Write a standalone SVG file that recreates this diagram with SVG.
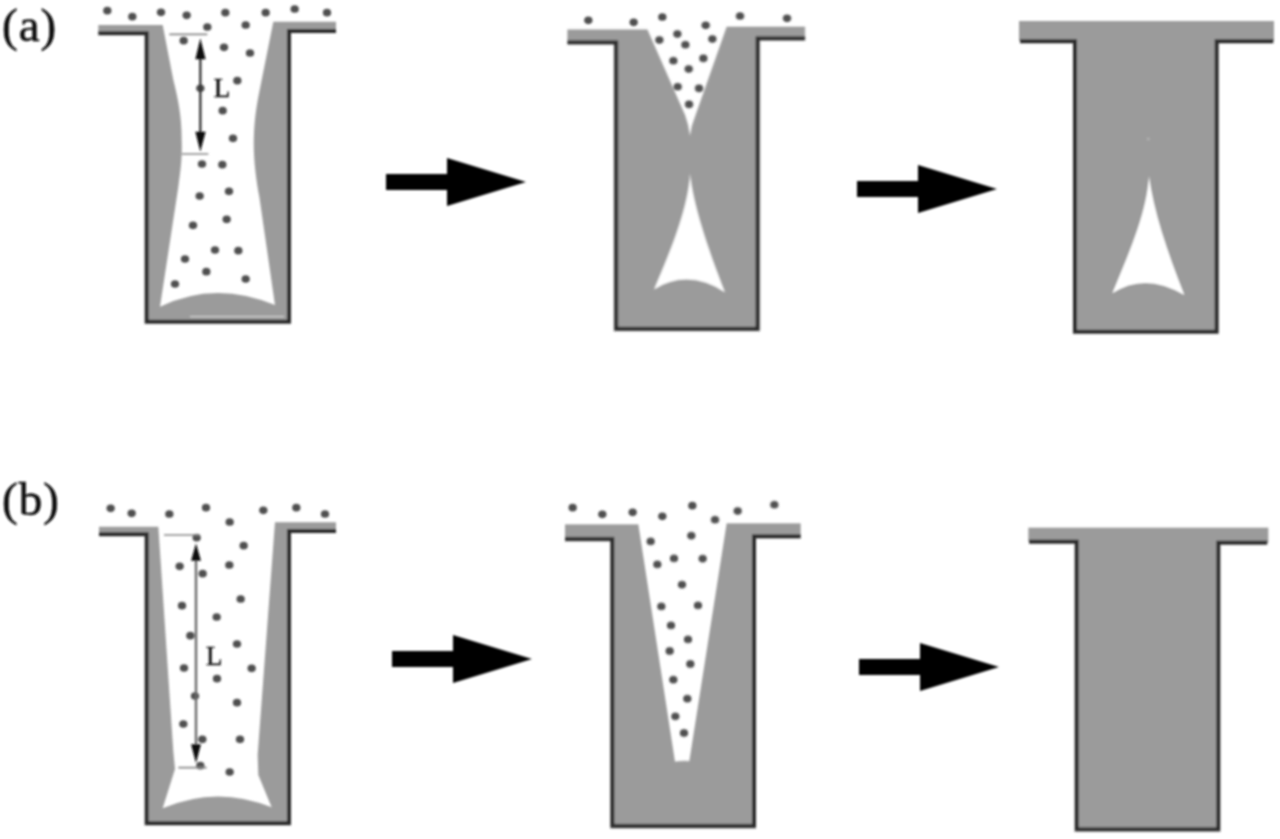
<svg xmlns="http://www.w3.org/2000/svg" xmlns:xlink="http://www.w3.org/1999/xlink" width="1280" height="839" viewBox="0 0 1280 839">
<style>
.f{fill:#9b9b9b;stroke:none}
.o{fill:none;stroke:#2b2b2b;stroke-width:12;stroke-linejoin:miter}
.c{fill:#fff;stroke:none}
.t{fill:none;stroke:#888;stroke-width:5}
.dim{fill:none;stroke:#333;stroke-width:7}
.h{fill:#111;stroke:none}
.lab{font-family:"Liberation Serif","Times New Roman",serif;fill:#111}
.tag{font-size:47px;stroke:#111;stroke-width:.6;letter-spacing:1px}
.len{font-size:81px;stroke:#222;stroke-width:1.5}
</style>
<defs>
<filter id="b" x="-2%" y="-2%" width="104%" height="104%"><feGaussianBlur stdDeviation="0.8"/></filter>
<ellipse id="d" rx="12.5" ry="11.5" fill="#505050"/>
<path id="ar" d="M0 -8H61V-24L140 0L61 24V8H0Z" fill="#000"/>
</defs>
<rect width="1280" height="839" fill="#fff"/>
<g filter="url(#b)">
<g id="label-a"><text class="lab tag" x="2" y="41">(a)</text></g>
<g id="label-b"><text class="lab tag" x="2" y="515">(b)</text></g>

<g id="panel-a1" transform="translate(90 0) scale(.33333)">
<path class="f" d="M25 75H218L250 240C265 300 275 350 275 420C277 470 272 510 265 560L210 920Q375 840 555 915L508 590C492 500 482 410 505 290L550 65H738V93H597V965H170V100H25Z"/>
<path d="M300 950H582" stroke="#ddd" stroke-width="3" fill="none"/>
<path class="o" d="M25 100H170V965H597V93H738"/>
<g>
<use href="#d" x="52" y="32"/><use href="#d" x="127" y="50"/><use href="#d" x="213" y="37"/><use href="#d" x="290" y="46"/><use href="#d" x="406" y="38"/><use href="#d" x="527" y="38"/><use href="#d" x="614" y="27"/><use href="#d" x="711" y="38"/><use href="#d" x="352" y="81"/><use href="#d" x="467" y="75"/><use href="#d" x="281" y="122"/><use href="#d" x="402" y="142"/><use href="#d" x="480" y="159"/><use href="#d" x="442" y="242"/><use href="#d" x="331" y="265"/><use href="#d" x="398" y="332"/><use href="#d" x="429" y="415"/><use href="#d" x="336" y="492"/><use href="#d" x="397" y="494"/><use href="#d" x="329" y="588"/><use href="#d" x="417" y="574"/><use href="#d" x="309" y="676"/><use href="#d" x="410" y="658"/><use href="#d" x="375" y="750"/><use href="#d" x="445" y="752"/><use href="#d" x="285" y="777"/><use href="#d" x="349" y="815"/><use href="#d" x="467" y="837"/><use href="#d" x="255" y="852"/>
</g>
<path class="t" d="M238 103H352M275 462H355"/>
<path class="dim" d="M331 140V430"/>
<path class="h" d="M331 115L347 178H316ZM331 455L316 395H347Z"/>
<text class="lab len" x="371" y="290">L</text>
</g>

<g id="panel-a2" transform="translate(560 5) scale(.33333)">
<path class="f" d="M22 73H262L375 330Q386 360 390 392Q394 360 405 335L500 65H735V100H593V972H168V112H22Z"/>
<path class="c" d="M390 505C385 600 340 720 282 853Q385 790 495 862C440 720 400 600 390 505Z"/>
<path class="o" d="M22 112H168V972H593V100H735"/>
<g>
<use href="#d" x="85" y="46"/><use href="#d" x="221" y="52"/><use href="#d" x="307" y="36"/><use href="#d" x="437" y="61"/><use href="#d" x="540" y="33"/><use href="#d" x="681" y="40"/><use href="#d" x="352" y="87"/><use href="#d" x="298" y="105"/><use href="#d" x="376" y="119"/><use href="#d" x="457" y="102"/><use href="#d" x="340" y="167"/><use href="#d" x="430" y="160"/><use href="#d" x="386" y="192"/><use href="#d" x="353" y="245"/><use href="#d" x="417" y="250"/><use href="#d" x="387" y="298"/>
</g>
</g>

<g id="panel-a3" transform="translate(1010 10) scale(.33333)">
<path class="f" d="M27 33H792V94H620V965H195V94H27Z"/>
<path class="c" d="M417 498C410 600 370 700 307 850Q405 785 523 855C470 720 430 600 417 498Z"/>
<circle cx="415" cy="387" r="4" fill="#b5b5b5"/>
<path class="o" d="M30 94H195V965H620V94H790"/>
</g>

<g id="panel-b1" transform="translate(90 495) scale(.33333)">
<path class="f" d="M27 95H205L250 770L255 822L218 940Q380 870 545 937L505 840L503 780L555 82H738V108H597V985H170V118H27Z"/>
<path class="o" d="M27 118H170V985H597V108H738"/>
<g>
<use href="#d" x="62" y="40"/><use href="#d" x="125" y="55"/><use href="#d" x="238" y="57"/><use href="#d" x="348" y="38"/><use href="#d" x="419" y="81"/><use href="#d" x="520" y="46"/><use href="#d" x="619" y="38"/><use href="#d" x="705" y="57"/><use href="#d" x="461" y="152"/><use href="#d" x="320" y="128"/><use href="#d" x="269" y="214"/><use href="#d" x="338" y="236"/><use href="#d" x="418" y="210"/><use href="#d" x="452" y="312"/><use href="#d" x="276" y="332"/><use href="#d" x="380" y="366"/><use href="#d" x="301" y="422"/><use href="#d" x="441" y="447"/><use href="#d" x="282" y="519"/><use href="#d" x="485" y="520"/><use href="#d" x="381" y="551"/><use href="#d" x="315" y="603"/><use href="#d" x="441" y="623"/><use href="#d" x="280" y="687"/><use href="#d" x="337" y="733"/><use href="#d" x="450" y="733"/><use href="#d" x="331" y="812"/><use href="#d" x="419" y="831"/>
</g>
<path class="t" d="M222 120H330M265 818H350"/>
<path class="dim" d="M318 170V780" style="stroke:#666"/>
<path class="h" d="M318 145L333 197H303ZM318 805L303 748H333Z"/>
<text class="lab len" x="348" y="510">L</text>
</g>

<g id="panel-b2" transform="translate(560 495) scale(.33333)">
<path class="f" d="M15 88H235L345 800Q366 796 388 798L500 85H722V124H582V993H157V132H15Z"/>
<path class="o" d="M15 132H157V993H582V124H722"/>
<g>
<use href="#d" x="38" y="38"/><use href="#d" x="127" y="58"/><use href="#d" x="218" y="52"/><use href="#d" x="307" y="64"/><use href="#d" x="397" y="32"/><use href="#d" x="465" y="74"/><use href="#d" x="533" y="48"/><use href="#d" x="643" y="29"/><use href="#d" x="394" y="122"/><use href="#d" x="272" y="139"/><use href="#d" x="292" y="208"/><use href="#d" x="342" y="190"/><use href="#d" x="428" y="191"/><use href="#d" x="366" y="269"/><use href="#d" x="304" y="334"/><use href="#d" x="414" y="331"/><use href="#d" x="333" y="391"/><use href="#d" x="384" y="433"/><use href="#d" x="329" y="468"/><use href="#d" x="391" y="507"/><use href="#d" x="340" y="554"/><use href="#d" x="382" y="611"/><use href="#d" x="346" y="664"/><use href="#d" x="372" y="714"/>
</g>
</g>

<g id="panel-b3" transform="translate(1020 510) scale(.33333)">
<path class="f" d="M25 53H745V98H595V958H170V95H25Z"/>
<path class="o" d="M27 95H170V958H595V98H742"/>
</g>

<g id="connectors">
<use href="#ar" x="386" y="182"/>
<use href="#ar" x="857" y="189"/>
<use href="#ar" x="392" y="659"/>
<use href="#ar" x="859" y="667"/>
</g>
</g>
</svg>
